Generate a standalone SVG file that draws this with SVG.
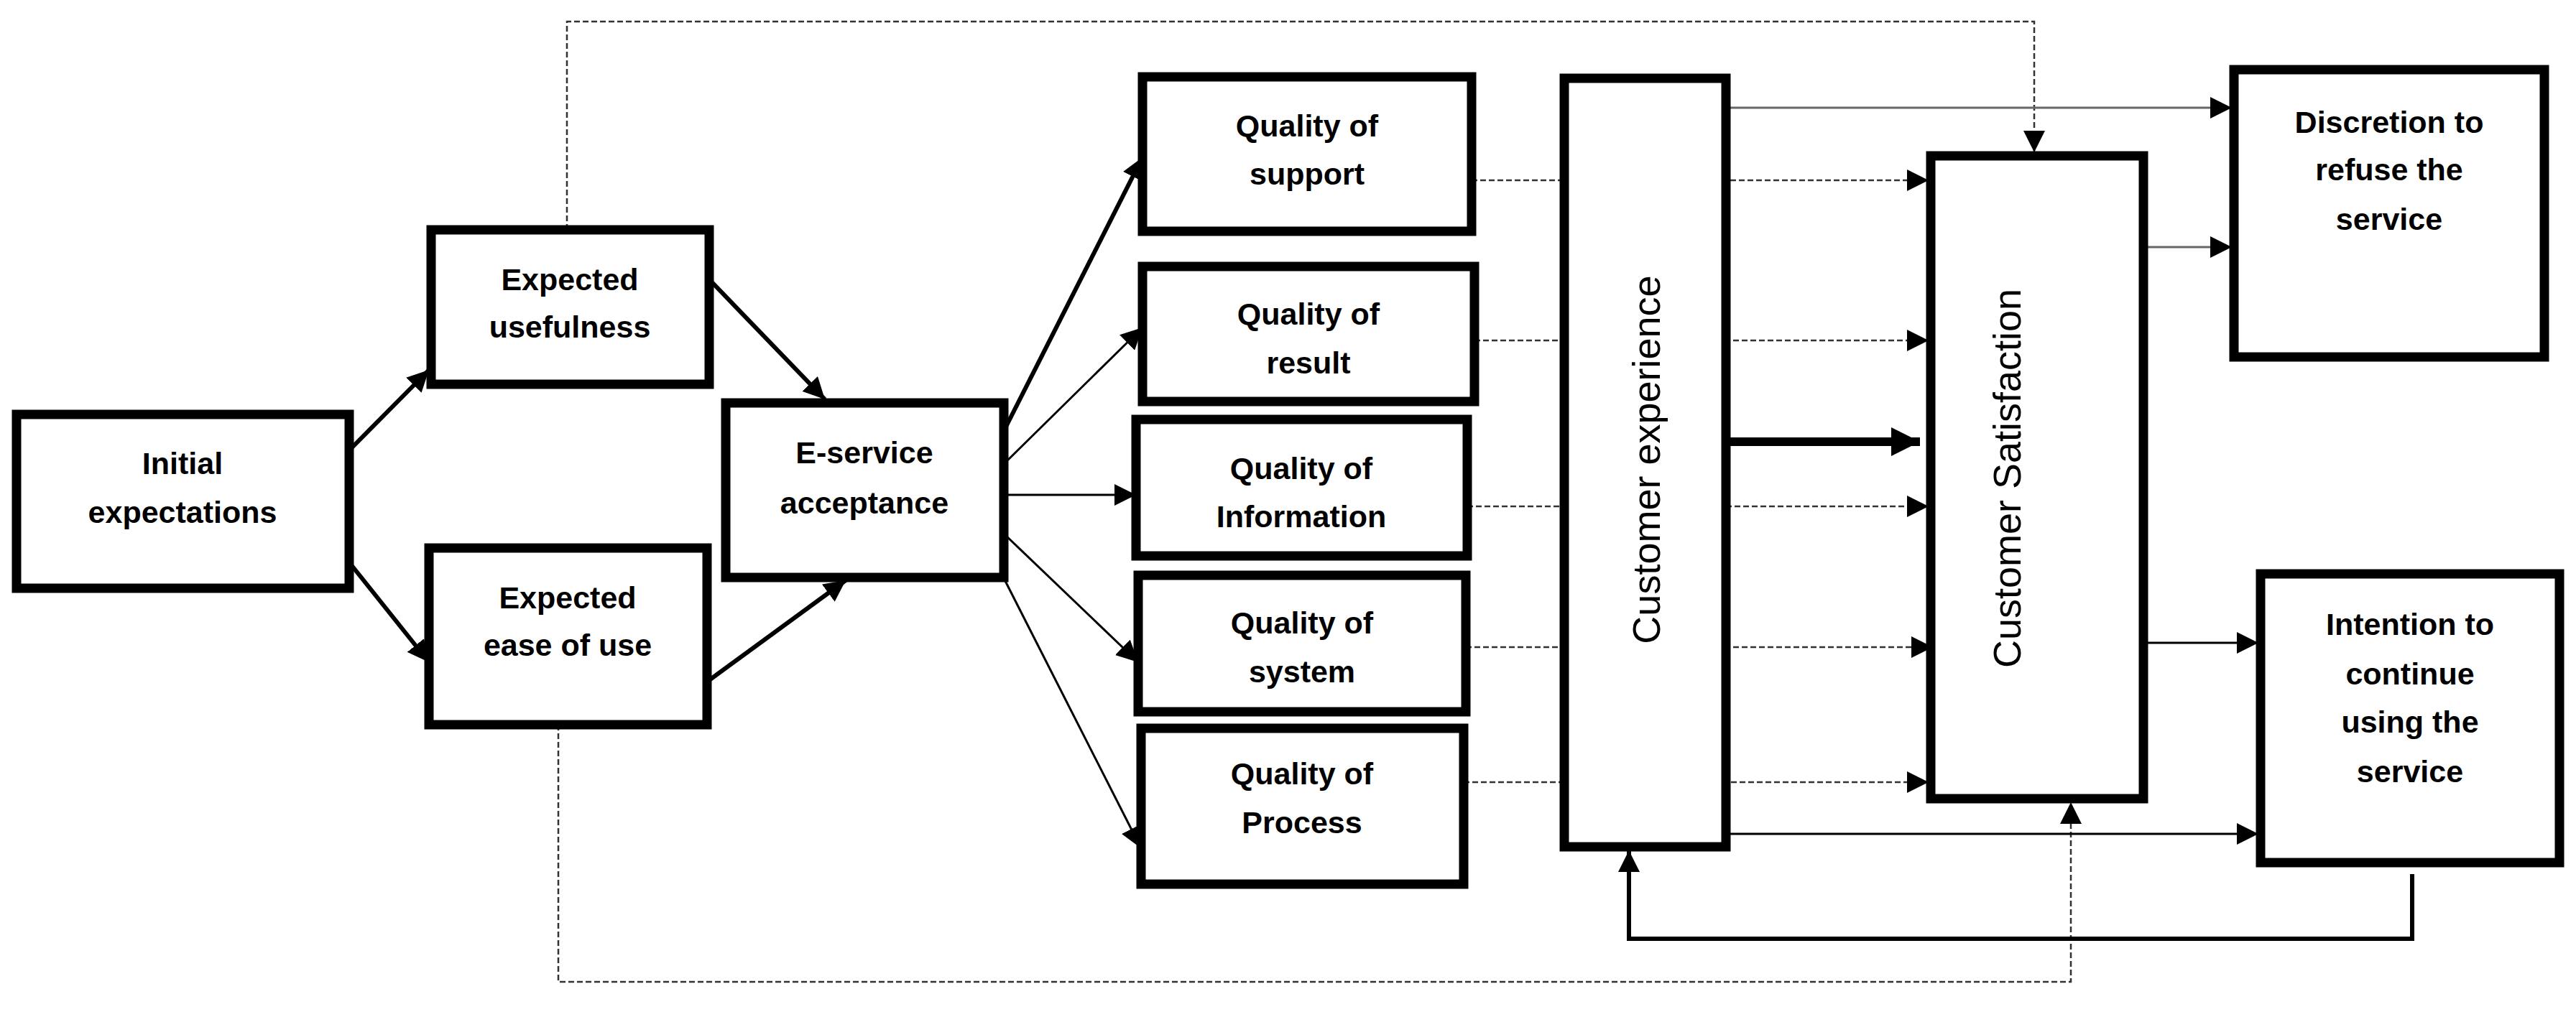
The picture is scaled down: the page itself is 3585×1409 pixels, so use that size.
<svg xmlns="http://www.w3.org/2000/svg" width="3585" height="1409" viewBox="0 0 3585 1409">
<style>
.b{fill:#fff;stroke:#000;stroke-width:13}
.t{font-family:"Liberation Sans",Arial,sans-serif;font-weight:bold;font-size:43px;text-anchor:middle;fill:#000}
.v{font-family:"Liberation Sans",Arial,sans-serif;font-size:54px;text-anchor:middle;fill:#000}
.s{fill:none;stroke:#000;stroke-width:3}
.w{fill:none;stroke:#000;stroke-width:6}
.x{fill:none;stroke:#000;stroke-width:12}
.g{fill:none;stroke:#666;stroke-width:3}
.d{fill:none;stroke:#333;stroke-width:2.5;stroke-dasharray:8 4}
</style>
<defs>
<marker id="m" viewBox="0 0 10 10" refX="10" refY="5" markerWidth="30" markerHeight="30" markerUnits="userSpaceOnUse" orient="auto"><path d="M0,0L10,5L0,10z" fill="#000"/></marker>
<marker id="k" viewBox="0 0 10 10" refX="10" refY="5" markerWidth="40" markerHeight="40" markerUnits="userSpaceOnUse" orient="auto"><path d="M0,0L10,5L0,10z" fill="#000"/></marker>
</defs>
<g id="connectors">
<path class="d" d="M789,320V30H2831V212" marker-end="url(#m)"/>
<path class="d" d="M777,1009V1367H2882V1117" marker-end="url(#m)"/>
<path class="w" d="M486,627L597,515" marker-end="url(#m)"/>
<path class="w" d="M486,783L597,922" marker-end="url(#m)"/>
<path class="w" d="M987,389L1148,556" marker-end="url(#m)"/>
<path class="w" d="M987,947L1177,808" marker-end="url(#m)"/>
<path class="w" d="M1397,600L1590,219" marker-end="url(#m)"/>
<path class="s" d="M1397,646L1590,456" marker-end="url(#m)"/>
<path class="s" d="M1397,689L1581,689" marker-end="url(#m)"/>
<path class="s" d="M1397,743L1584,922" marker-end="url(#m)"/>
<path class="s" d="M1397,805L1588,1181" marker-end="url(#m)"/>
<path class="d" d="M2048,251H2684" marker-end="url(#m)"/>
<path class="d" d="M2052,474H2684" marker-end="url(#m)"/>
<path class="d" d="M2042,705H2684" marker-end="url(#m)"/>
<path class="d" d="M2040,901H2690" marker-end="url(#m)"/>
<path class="d" d="M2037,1089H2684" marker-end="url(#m)"/>
<path class="g" d="M2402,150H3106" marker-end="url(#m)"/>
<path class="g" d="M2983,344H3106" marker-end="url(#m)"/>
<path class="x" d="M2402,615H2672" marker-end="url(#k)"/>
<path class="s" d="M2983,895H3143" marker-end="url(#m)"/>
<path class="s" d="M2402,1161H3143" marker-end="url(#m)"/>
<path class="w" d="M3357,1217V1307H2267V1184" marker-end="url(#m)"/>
</g>
<g id="initial"><rect class="b" x="23" y="577" width="463" height="242"/><text class="t" x="254" y="660">Initial</text><text class="t" x="254" y="728">expectations</text></g>
<g id="usefulness"><rect class="b" x="600" y="320" width="387" height="215"/><text class="t" x="793" y="404">Expected</text><text class="t" x="793" y="470">usefulness</text></g>
<g id="ease"><rect class="b" x="597" y="763" width="387" height="246"/><text class="t" x="790" y="847">Expected</text><text class="t" x="790" y="913">ease of use</text></g>
<g id="acceptance"><rect class="b" x="1010" y="561" width="387" height="243"/><text class="t" x="1203" y="645">E-service</text><text class="t" x="1203" y="715">acceptance</text></g>
<g id="support"><rect class="b" x="1590" y="107" width="458" height="215"/><text class="t" x="1819" y="190">Quality of</text><text class="t" x="1819" y="257">support</text></g>
<g id="result"><rect class="b" x="1590" y="371" width="462" height="188"/><text class="t" x="1821" y="452">Quality of</text><text class="t" x="1821" y="520">result</text></g>
<g id="information"><rect class="b" x="1581" y="584" width="461" height="190"/><text class="t" x="1811" y="667">Quality of</text><text class="t" x="1811" y="734">Information</text></g>
<g id="system"><rect class="b" x="1584" y="801" width="456" height="190"/><text class="t" x="1812" y="882">Quality of</text><text class="t" x="1812" y="950">system</text></g>
<g id="process"><rect class="b" x="1588" y="1014" width="449" height="217"/><text class="t" x="1812" y="1092">Quality of</text><text class="t" x="1812" y="1160">Process</text></g>
<g id="experience"><rect class="b" x="2177" y="109" width="225" height="1070"/><text class="v" transform="translate(2310,640) rotate(-90)">Customer experience</text></g>
<g id="satisfaction"><rect class="b" x="2687" y="217" width="296" height="895"/><text class="v" transform="translate(2812,666) rotate(-90)">Customer Satisfaction</text></g>
<g id="discretion"><rect class="b" x="3109" y="97" width="432" height="400"/><text class="t" x="3325" y="185">Discretion to</text><text class="t" x="3325" y="251">refuse the</text><text class="t" x="3325" y="320">service</text></g>
<g id="intention"><rect class="b" x="3146" y="799" width="416" height="402"/><text class="t" x="3354" y="884">Intention to</text><text class="t" x="3354" y="953">continue</text><text class="t" x="3354" y="1020">using the</text><text class="t" x="3354" y="1089">service</text></g>
</svg>
